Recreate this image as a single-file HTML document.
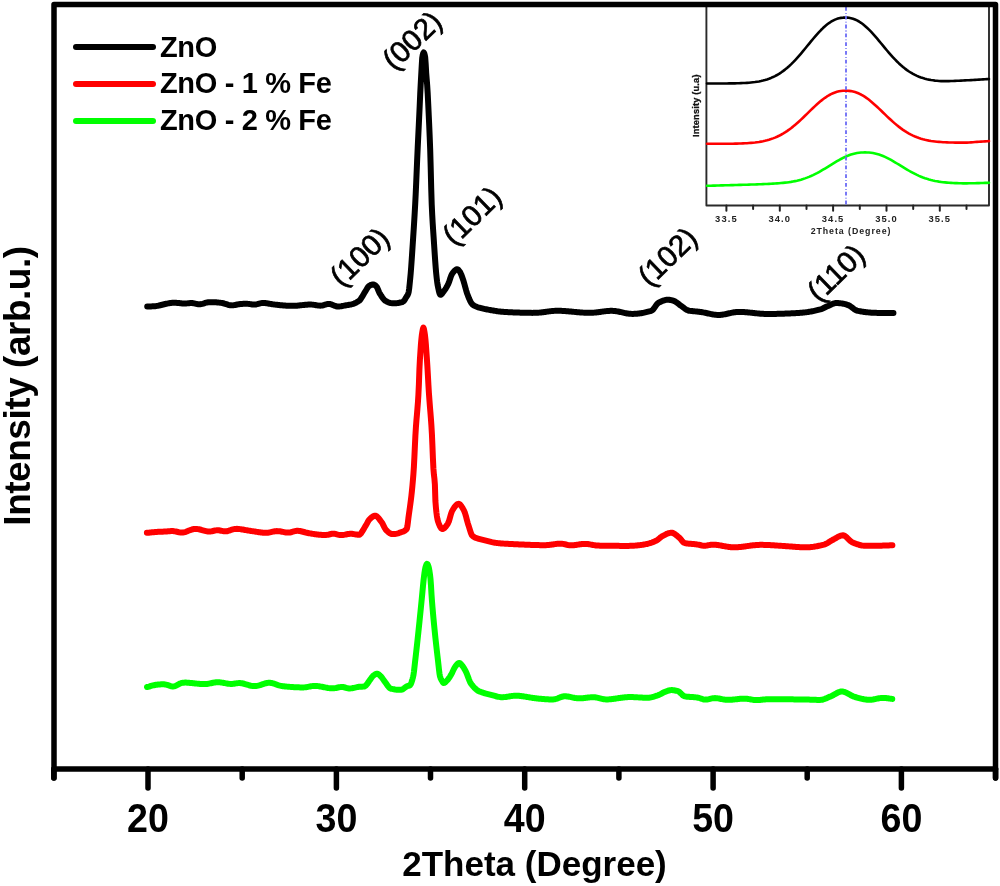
<!DOCTYPE html><html><head><meta charset="utf-8"><title>XRD</title><style>html,body{margin:0;padding:0;background:#fff;}svg{display:block;}</style></head><body>
<svg width="1000" height="886" viewBox="0 0 1000 886">
<rect width="1000" height="886" fill="#fff"/>
<g fill="none" stroke-linecap="round" stroke-linejoin="round">
<path d="M706.4,6 V205.5 H989 V6" stroke="#2a2a2a" stroke-width="1.9"/>
<line x1="726.4" y1="205.5" x2="726.4" y2="210.8" stroke="#222" stroke-width="2"/>
<line x1="753.1" y1="205.5" x2="753.1" y2="208.9" stroke="#222" stroke-width="2"/>
<line x1="779.8" y1="205.5" x2="779.8" y2="210.8" stroke="#222" stroke-width="2"/>
<line x1="806.5" y1="205.5" x2="806.5" y2="208.9" stroke="#222" stroke-width="2"/>
<line x1="833.1" y1="205.5" x2="833.1" y2="210.8" stroke="#222" stroke-width="2"/>
<line x1="859.8" y1="205.5" x2="859.8" y2="208.9" stroke="#222" stroke-width="2"/>
<line x1="886.5" y1="205.5" x2="886.5" y2="210.8" stroke="#222" stroke-width="2"/>
<line x1="913.2" y1="205.5" x2="913.2" y2="208.9" stroke="#222" stroke-width="2"/>
<line x1="939.8" y1="205.5" x2="939.8" y2="210.8" stroke="#222" stroke-width="2"/>
<line x1="966.5" y1="205.5" x2="966.5" y2="208.9" stroke="#222" stroke-width="2"/>
<path d="M707.0,83.50 L709.0,83.49 L711.0,83.49 L713.0,83.49 L715.0,83.49 L717.0,83.48 L719.0,83.48 L721.0,83.47 L723.0,83.46 L725.0,83.45 L727.0,83.44 L729.0,83.42 L731.0,83.39 L733.0,83.36 L735.0,83.33 L737.0,83.28 L739.0,83.22 L741.0,83.15 L743.0,83.07 L745.0,82.97 L747.0,82.84 L749.0,82.69 L751.0,82.51 L753.0,82.30 L755.0,82.06 L757.0,81.76 L759.0,81.42 L761.0,81.02 L763.0,80.55 L765.0,80.01 L767.0,79.40 L769.0,78.71 L771.0,77.93 L773.0,77.06 L775.0,76.09 L777.0,75.02 L779.0,73.84 L781.0,72.54 L783.0,71.14 L785.0,69.61 L787.0,67.97 L789.0,66.21 L791.0,64.34 L793.0,62.37 L795.0,60.29 L797.0,58.12 L799.0,55.87 L801.0,53.55 L803.0,51.17 L805.0,48.75 L807.0,46.30 L809.0,43.85 L811.0,41.40 L813.0,38.99 L815.0,36.63 L817.0,34.34 L819.0,32.14 L821.0,30.04 L823.0,28.07 L825.0,26.24 L827.0,24.57 L829.0,23.06 L831.0,21.73 L833.0,20.59 L835.0,19.63 L837.0,18.86 L839.0,18.29 L841.0,17.90 L843.0,17.67 L845.0,17.60 L847.0,17.64 L849.0,17.83 L851.0,18.19 L853.0,18.73 L855.0,19.46 L857.0,20.39 L859.0,21.50 L861.0,22.79 L863.0,24.27 L865.0,25.91 L867.0,27.70 L869.0,29.64 L871.0,31.70 L873.0,33.87 L875.0,36.13 L877.0,38.46 L879.0,40.84 L881.0,43.25 L883.0,45.67 L885.0,48.08 L887.0,50.47 L889.0,52.81 L891.0,55.10 L893.0,57.32 L895.0,59.46 L897.0,61.50 L899.0,63.44 L901.0,65.28 L903.0,67.00 L905.0,68.61 L907.0,70.10 L909.0,71.48 L911.0,72.74 L913.0,73.89 L915.0,74.92 L917.0,75.86 L919.0,76.70 L921.0,77.44 L923.0,78.10 L925.0,78.68 L927.0,79.18 L929.0,79.62 L931.0,80.00 L933.0,80.32 L935.0,80.60 L937.0,80.83 L939.0,81.02 L941.0,81.13 L943.0,81.16 L945.0,81.16 L947.0,81.14 L949.0,81.10 L951.0,81.05 L953.0,80.98 L955.0,80.91 L957.0,80.82 L959.0,80.73 L961.0,80.63 L963.0,80.53 L965.0,80.42 L967.0,80.31 L969.0,80.20 L971.0,80.08 L973.0,79.96 L975.0,79.84 L977.0,79.73 L979.0,79.61 L981.0,79.48 L983.0,79.36 L985.0,79.24 L987.0,79.12 L989.0,79.00" stroke="#000" stroke-width="2.6"/>
<path d="M707.0,143.80 L709.0,143.80 L711.0,143.79 L713.0,143.79 L715.0,143.79 L717.0,143.78 L719.0,143.78 L721.0,143.77 L723.0,143.76 L725.0,143.75 L727.0,143.74 L729.0,143.72 L731.0,143.70 L733.0,143.68 L735.0,143.64 L737.0,143.60 L739.0,143.56 L741.0,143.49 L743.0,143.41 L745.0,143.31 L747.0,143.20 L749.0,143.06 L751.0,142.90 L753.0,142.71 L755.0,142.50 L757.0,142.24 L759.0,141.95 L761.0,141.61 L763.0,141.23 L765.0,140.79 L767.0,140.29 L769.0,139.73 L771.0,139.10 L773.0,138.39 L775.0,137.61 L777.0,136.74 L779.0,135.79 L781.0,134.75 L783.0,133.62 L785.0,132.40 L787.0,131.08 L789.0,129.68 L791.0,128.19 L793.0,126.61 L795.0,124.95 L797.0,123.22 L799.0,121.43 L801.0,119.58 L803.0,117.69 L805.0,115.76 L807.0,113.82 L809.0,111.86 L811.0,109.92 L813.0,108.00 L815.0,106.12 L817.0,104.29 L819.0,102.54 L821.0,100.86 L823.0,99.28 L825.0,97.81 L827.0,96.47 L829.0,95.25 L831.0,94.17 L833.0,93.24 L835.0,92.45 L837.0,91.82 L839.0,91.33 L841.0,90.99 L843.0,90.79 L845.0,90.70 L847.0,90.72 L849.0,90.84 L851.0,91.09 L853.0,91.48 L855.0,92.02 L857.0,92.71 L859.0,93.55 L861.0,94.54 L863.0,95.67 L865.0,96.93 L867.0,98.32 L869.0,99.83 L871.0,101.44 L873.0,103.14 L875.0,104.91 L877.0,106.75 L879.0,108.63 L881.0,110.55 L883.0,112.48 L885.0,114.41 L887.0,116.32 L889.0,118.22 L891.0,120.07 L893.0,121.87 L895.0,123.61 L897.0,125.29 L899.0,126.89 L901.0,128.40 L903.0,129.83 L905.0,131.17 L907.0,132.42 L909.0,133.58 L911.0,134.65 L913.0,135.62 L915.0,136.51 L917.0,137.32 L919.0,138.04 L921.0,138.69 L923.0,139.27 L925.0,139.78 L927.0,140.22 L929.0,140.62 L931.0,140.96 L933.0,141.25 L935.0,141.50 L937.0,141.72 L939.0,141.90 L941.0,142.05 L943.0,142.18 L945.0,142.29 L947.0,142.37 L949.0,142.44 L951.0,142.50 L953.0,142.54 L955.0,142.58 L957.0,142.61 L959.0,142.63 L961.0,142.64 L963.0,142.65 L965.0,142.65 L967.0,142.59 L969.0,142.46 L971.0,142.33 L973.0,142.20 L975.0,142.06 L977.0,141.92 L979.0,141.79 L981.0,141.65 L983.0,141.51 L985.0,141.38 L987.0,141.24 L989.0,141.10" stroke="#f00" stroke-width="2.6"/>
<path d="M707.0,185.80 L709.0,185.75 L711.0,185.69 L713.0,185.64 L715.0,185.58 L717.0,185.53 L719.0,185.47 L721.0,185.42 L723.0,185.36 L725.0,185.31 L727.0,185.25 L729.0,185.20 L731.0,185.14 L733.0,185.09 L735.0,185.03 L737.0,184.98 L739.0,184.92 L741.0,184.86 L743.0,184.81 L745.0,184.75 L747.0,184.69 L749.0,184.63 L751.0,184.57 L753.0,184.51 L755.0,184.45 L757.0,184.38 L759.0,184.31 L761.0,184.24 L763.0,184.16 L765.0,184.07 L767.0,183.98 L769.0,183.88 L771.0,183.77 L773.0,183.65 L775.0,183.51 L777.0,183.36 L779.0,183.19 L781.0,183.02 L783.0,182.85 L785.0,182.66 L787.0,182.43 L789.0,182.17 L791.0,181.87 L793.0,181.52 L795.0,181.13 L797.0,180.70 L799.0,180.20 L801.0,179.66 L803.0,179.05 L805.0,178.38 L807.0,177.65 L809.0,176.86 L811.0,176.01 L813.0,175.10 L815.0,174.12 L817.0,173.10 L819.0,172.02 L821.0,170.89 L823.0,169.73 L825.0,168.53 L827.0,167.31 L829.0,166.08 L831.0,164.84 L833.0,163.61 L835.0,162.40 L837.0,161.21 L839.0,160.07 L841.0,158.97 L843.0,157.94 L845.0,156.97 L847.0,156.09 L849.0,155.29 L851.0,154.58 L853.0,153.97 L855.0,153.47 L857.0,153.06 L859.0,152.75 L861.0,152.55 L863.0,152.43 L865.0,152.40 L867.0,152.43 L869.0,152.54 L871.0,152.74 L873.0,153.03 L875.0,153.43 L877.0,153.94 L879.0,154.54 L881.0,155.24 L883.0,156.03 L885.0,156.91 L887.0,157.87 L889.0,158.90 L891.0,159.98 L893.0,161.12 L895.0,162.30 L897.0,163.51 L899.0,164.73 L901.0,165.96 L903.0,167.19 L905.0,168.40 L907.0,169.59 L909.0,170.75 L911.0,171.87 L913.0,172.94 L915.0,173.96 L917.0,174.93 L919.0,175.84 L921.0,176.68 L923.0,177.47 L925.0,178.19 L927.0,178.85 L929.0,179.45 L931.0,179.99 L933.0,180.48 L935.0,180.91 L937.0,181.29 L939.0,181.63 L941.0,181.92 L943.0,182.18 L945.0,182.40 L947.0,182.59 L949.0,182.75 L951.0,182.88 L953.0,183.00 L955.0,183.09 L957.0,183.17 L959.0,183.23 L961.0,183.29 L963.0,183.33 L965.0,183.36 L967.0,183.36 L969.0,183.32 L971.0,183.28 L973.0,183.24 L975.0,183.19 L977.0,183.14 L979.0,183.08 L981.0,183.03 L983.0,182.97 L985.0,182.91 L987.0,182.85 L989.0,182.79" stroke="#0f0" stroke-width="2.6"/>
<line x1="846" y1="7" x2="846" y2="205" stroke="#6a6af5" stroke-width="1.8" stroke-dasharray="3.8,2.2,0.8,2" stroke-linecap="butt"/>
</g>
<g font-family="'Liberation Sans', Arial, sans-serif" font-weight="bold" fill="#222" font-size="9.4" text-anchor="middle" letter-spacing="1.1">
<text x="726.4" y="222">33.5</text>
<text x="779.8" y="222">34.0</text>
<text x="833.1" y="222">34.5</text>
<text x="886.5" y="222">35.0</text>
<text x="939.8" y="222">35.5</text>
<text x="851" y="233.6" font-size="8.8" letter-spacing="0.95">2Theta (Degree)</text>
<text transform="translate(698.8,105.7) rotate(-90)" font-size="9.3" letter-spacing="0.15" fill="#111" stroke="#111" stroke-width="0.3">Intensity (u.a)</text>
</g>
<g fill="none" stroke="#000" stroke-width="5.5" stroke-linecap="round" stroke-linejoin="round">
<path d="M54,778 V4.4 H995.5 V778"/>
<line x1="54" y1="769" x2="995.5" y2="769"/>
<line x1="53.8" y1="769" x2="53.8" y2="778.0"/>
<line x1="148.0" y1="769" x2="148.0" y2="788.0"/>
<line x1="242.2" y1="769" x2="242.2" y2="778.0"/>
<line x1="336.4" y1="769" x2="336.4" y2="788.0"/>
<line x1="430.5" y1="769" x2="430.5" y2="778.0"/>
<line x1="524.7" y1="769" x2="524.7" y2="788.0"/>
<line x1="618.9" y1="769" x2="618.9" y2="778.0"/>
<line x1="713.1" y1="769" x2="713.1" y2="788.0"/>
<line x1="807.2" y1="769" x2="807.2" y2="778.0"/>
<line x1="901.4" y1="769" x2="901.4" y2="788.0"/>
<line x1="995.6" y1="769" x2="995.6" y2="778.0"/>
</g>
<g fill="none" stroke-width="6" stroke-linecap="round" stroke-linejoin="round">
<path d="M147.20,306.40 L148.20,306.40 L149.20,306.40 L150.20,306.39 L151.20,306.38 L152.20,306.36 L153.20,306.32 L154.20,306.26 L155.20,306.16 L156.20,306.04 L157.20,305.88 L158.20,305.69 L159.20,305.47 L160.20,305.24 L161.20,305.00 L162.20,304.76 L163.20,304.51 L164.20,304.27 L165.20,304.02 L166.20,303.79 L167.20,303.56 L168.20,303.35 L169.20,303.16 L170.20,303.01 L171.20,302.89 L172.20,302.81 L173.20,302.76 L174.20,302.76 L175.20,302.79 L176.20,302.84 L177.20,302.92 L178.20,303.01 L179.20,303.11 L180.20,303.21 L181.20,303.31 L182.20,303.39 L183.20,303.45 L184.20,303.49 L185.20,303.48 L186.20,303.44 L187.20,303.37 L188.20,303.27 L189.20,303.16 L190.20,303.09 L191.20,303.06 L192.20,303.10 L193.20,303.21 L194.20,303.39 L195.20,303.62 L196.20,303.85 L197.20,304.05 L198.20,304.19 L199.20,304.25 L200.20,304.21 L201.20,304.07 L202.20,303.85 L203.20,303.57 L204.20,303.26 L205.20,302.96 L206.20,302.69 L207.20,302.47 L208.20,302.30 L209.20,302.20 L210.20,302.14 L211.20,302.13 L212.20,302.14 L213.20,302.17 L214.20,302.22 L215.20,302.29 L216.20,302.36 L217.20,302.44 L218.20,302.53 L219.20,302.63 L220.20,302.75 L221.20,302.89 L222.20,303.06 L223.20,303.27 L224.20,303.51 L225.20,303.81 L226.20,304.13 L227.20,304.46 L228.20,304.78 L229.20,305.06 L230.20,305.25 L231.20,305.36 L232.20,305.37 L233.20,305.29 L234.20,305.14 L235.20,304.94 L236.20,304.73 L237.20,304.52 L238.20,304.33 L239.20,304.17 L240.20,304.05 L241.20,303.96 L242.20,303.90 L243.20,303.85 L244.20,303.82 L245.20,303.80 L246.20,303.79 L247.20,303.81 L248.20,303.87 L249.20,303.96 L250.20,304.10 L251.20,304.26 L252.20,304.42 L253.20,304.54 L254.20,304.60 L255.20,304.55 L256.20,304.41 L257.20,304.19 L258.20,303.91 L259.20,303.62 L260.20,303.35 L261.20,303.15 L262.20,303.01 L263.20,302.96 L264.20,302.98 L265.20,303.06 L266.20,303.19 L267.20,303.34 L268.20,303.52 L269.20,303.70 L270.20,303.88 L271.20,304.06 L272.20,304.22 L273.20,304.36 L274.20,304.50 L275.20,304.62 L276.20,304.73 L277.20,304.84 L278.20,304.95 L279.20,305.05 L280.20,305.15 L281.20,305.24 L282.20,305.33 L283.20,305.42 L284.20,305.50 L285.20,305.57 L286.20,305.64 L287.20,305.70 L288.20,305.75 L289.20,305.79 L290.20,305.82 L291.20,305.84 L292.20,305.84 L293.20,305.83 L294.20,305.81 L295.20,305.76 L296.20,305.71 L297.20,305.64 L298.20,305.55 L299.20,305.46 L300.20,305.36 L301.20,305.25 L302.20,305.14 L303.20,305.04 L304.20,304.93 L305.20,304.83 L306.20,304.74 L307.20,304.66 L308.20,304.60 L309.20,304.56 L310.20,304.55 L311.20,304.57 L312.20,304.63 L313.20,304.73 L314.20,304.86 L315.20,305.02 L316.20,305.20 L317.20,305.37 L318.20,305.52 L319.20,305.62 L320.20,305.66 L321.20,305.61 L322.20,305.48 L323.20,305.25 L324.20,304.96 L325.20,304.64 L326.20,304.33 L327.20,304.09 L328.20,303.95 L329.20,303.95 L330.20,304.09 L331.20,304.37 L332.20,304.75 L333.20,305.18 L334.20,305.61 L335.20,305.98 L336.20,306.27 L337.20,306.45 L338.20,306.51 L339.20,306.49 L340.20,306.38 L341.20,306.23 L342.20,306.04 L343.20,305.84 L344.20,305.64 L345.20,305.45 L346.20,305.28 L347.20,305.12 L348.20,304.97 L349.20,304.81 L350.20,304.64 L351.20,304.45 L352.20,304.20 L353.20,303.90 L354.20,303.52 L355.20,303.06 L356.20,302.52 L357.20,301.96 L358.20,301.35 L359.20,300.70 L360.20,299.75 L361.20,298.31 L362.20,296.66 L363.20,294.91 L364.20,293.19 L365.20,291.60 L366.20,289.95 L367.20,288.22 L368.20,286.75 L369.20,285.88 L370.20,285.31 L371.20,284.84 L372.20,284.52 L373.20,284.40 L374.20,284.65 L375.20,285.31 L376.20,286.21 L377.20,287.59 L378.20,289.99 L379.20,292.44 L380.20,294.18 L381.20,295.77 L382.20,297.28 L383.20,298.63 L384.20,299.79 L385.20,300.70 L386.20,301.30 L387.20,301.78 L388.20,302.22 L389.20,302.62 L390.20,302.95 L391.20,303.15 L392.20,303.28 L393.20,303.34 L394.20,303.34 L395.20,303.33 L396.20,303.27 L397.20,303.14 L398.20,302.96 L399.20,302.77 L400.20,302.54 L401.20,302.32 L402.20,302.06 L403.20,301.49 L404.20,300.55 L404.70,299.79 L405.20,298.91 L405.70,298.01 L406.20,297.18 L406.70,296.47 L407.20,295.76 L407.70,294.90 L408.20,293.77 L408.70,291.93 L409.20,288.44 L409.70,283.79 L410.20,278.59 L410.70,273.19 L411.20,266.87 L411.70,259.81 L412.20,252.28 L412.70,244.58 L413.20,236.97 L413.70,229.33 L414.20,221.42 L414.70,213.05 L415.20,204.00 L415.70,193.81 L416.20,182.54 L416.70,170.74 L417.20,158.98 L417.70,147.84 L418.20,137.26 L418.70,126.88 L419.20,116.42 L419.70,105.55 L420.20,94.20 L420.70,84.21 L421.20,75.25 L421.70,66.09 L422.20,58.00 L422.70,55.12 L423.20,53.20 L423.70,52.50 L424.20,53.10 L424.70,54.79 L425.20,57.39 L425.70,64.25 L426.20,72.89 L426.70,79.21 L427.20,85.54 L427.70,93.47 L428.20,103.55 L428.70,114.28 L429.20,125.12 L429.70,136.76 L430.20,150.00 L430.70,167.72 L431.20,187.91 L431.70,204.00 L432.20,214.65 L432.70,223.43 L433.20,231.11 L433.70,238.49 L434.20,246.12 L434.70,253.75 L435.20,261.06 L435.70,267.77 L436.20,273.58 L436.70,278.25 L437.20,282.21 L437.70,285.46 L438.20,287.92 L438.70,290.21 L439.20,292.27 L439.70,293.86 L440.20,294.72 L440.70,294.75 L441.20,294.50 L441.70,294.06 L442.20,293.48 L442.70,292.81 L443.20,292.10 L443.70,291.40 L444.20,290.74 L444.70,290.06 L445.20,289.33 L445.70,288.55 L446.20,287.74 L447.20,285.96 L448.20,284.01 L449.20,281.58 L450.20,278.50 L451.20,275.61 L452.20,273.72 L453.20,272.35 L454.20,271.11 L455.20,270.12 L456.20,269.44 L457.20,269.20 L458.20,269.69 L459.20,270.87 L460.20,272.31 L461.20,274.42 L462.20,277.11 L463.20,279.97 L464.20,283.31 L465.20,286.96 L466.20,290.56 L467.20,293.73 L468.20,296.31 L469.20,298.80 L470.20,301.08 L471.20,302.96 L472.20,304.23 L473.20,304.96 L474.20,305.58 L475.20,306.11 L476.20,306.57 L477.20,306.97 L478.20,307.31 L479.20,307.60 L480.20,307.87 L481.20,308.13 L482.20,308.39 L483.20,308.64 L484.20,308.87 L485.20,309.09 L486.20,309.29 L487.20,309.49 L488.20,309.67 L489.20,309.86 L490.20,310.04 L491.20,310.22 L492.20,310.39 L493.20,310.57 L494.20,310.74 L495.20,310.90 L496.20,311.06 L497.20,311.21 L498.20,311.35 L499.20,311.48 L500.20,311.59 L501.20,311.68 L502.20,311.77 L503.20,311.85 L504.20,311.91 L505.20,311.98 L506.20,312.04 L507.20,312.09 L508.20,312.14 L509.20,312.19 L510.20,312.24 L511.20,312.29 L512.20,312.34 L513.20,312.38 L514.20,312.43 L515.20,312.47 L516.20,312.51 L517.20,312.55 L518.20,312.58 L519.20,312.62 L520.20,312.65 L521.20,312.68 L522.20,312.71 L523.20,312.73 L524.20,312.76 L525.20,312.78 L526.20,312.80 L527.20,312.82 L528.20,312.84 L529.20,312.85 L530.20,312.86 L531.20,312.87 L532.20,312.88 L533.20,312.87 L534.20,312.86 L535.20,312.84 L536.20,312.81 L537.20,312.77 L538.20,312.70 L539.20,312.63 L540.20,312.53 L541.20,312.43 L542.20,312.31 L543.20,312.18 L544.20,312.05 L545.20,311.91 L546.20,311.77 L547.20,311.63 L548.20,311.50 L549.20,311.36 L550.20,311.24 L551.20,311.13 L552.20,311.03 L553.20,310.94 L554.20,310.87 L555.20,310.82 L556.20,310.78 L557.20,310.77 L558.20,310.76 L559.20,310.77 L560.20,310.80 L561.20,310.83 L562.20,310.88 L563.20,310.93 L564.20,311.00 L565.20,311.06 L566.20,311.14 L567.20,311.22 L568.20,311.30 L569.20,311.39 L570.20,311.48 L571.20,311.58 L572.20,311.67 L573.20,311.77 L574.20,311.87 L575.20,311.96 L576.20,312.06 L577.20,312.15 L578.20,312.24 L579.20,312.33 L580.20,312.41 L581.20,312.49 L582.20,312.56 L583.20,312.63 L584.20,312.69 L585.20,312.74 L586.20,312.78 L587.20,312.81 L588.20,312.83 L589.20,312.84 L590.20,312.83 L591.20,312.80 L592.20,312.76 L593.20,312.70 L594.20,312.63 L595.20,312.53 L596.20,312.43 L597.20,312.31 L598.20,312.18 L599.20,312.05 L600.20,311.91 L601.20,311.77 L602.20,311.63 L603.20,311.50 L604.20,311.36 L605.20,311.24 L606.20,311.13 L607.20,311.03 L608.20,310.95 L609.20,310.88 L610.20,310.84 L611.20,310.82 L612.20,310.84 L613.20,310.88 L614.20,310.95 L615.20,311.06 L616.20,311.19 L617.20,311.36 L618.20,311.54 L619.20,311.75 L620.20,311.96 L621.20,312.19 L622.20,312.42 L623.20,312.65 L624.20,312.87 L625.20,313.08 L626.20,313.27 L627.20,313.44 L628.20,313.59 L629.20,313.71 L630.20,313.80 L631.20,313.86 L632.20,313.89 L633.20,313.90 L634.20,313.87 L635.20,313.83 L636.20,313.77 L637.20,313.69 L638.20,313.59 L639.20,313.47 L640.20,313.34 L641.20,313.19 L642.20,313.02 L643.20,312.84 L644.20,312.64 L645.20,312.42 L646.20,312.18 L647.20,311.93 L648.20,311.67 L649.20,311.40 L650.20,311.15 L651.20,310.83 L652.20,310.38 L653.20,309.42 L654.20,308.07 L655.20,306.56 L656.20,305.08 L657.20,303.82 L658.20,303.00 L659.20,302.47 L660.20,301.96 L661.20,301.48 L662.20,301.04 L663.20,300.65 L664.20,300.31 L665.20,300.04 L666.20,299.85 L667.20,299.73 L668.20,299.70 L669.20,299.77 L670.20,299.93 L671.20,300.15 L672.20,300.43 L673.20,300.74 L674.20,301.07 L675.20,301.54 L676.20,302.18 L677.20,302.93 L678.20,303.72 L679.20,304.49 L680.20,305.20 L681.20,305.89 L682.20,306.64 L683.20,307.41 L684.20,308.18 L685.20,308.90 L686.20,309.55 L687.20,310.09 L688.20,310.50 L689.20,310.73 L690.20,310.88 L691.20,310.98 L692.20,311.08 L693.20,311.17 L694.20,311.27 L695.20,311.37 L696.20,311.46 L697.20,311.56 L698.20,311.66 L699.20,311.78 L700.20,311.91 L701.20,312.05 L702.20,312.22 L703.20,312.40 L704.20,312.60 L705.20,312.80 L706.20,313.02 L707.20,313.24 L708.20,313.47 L709.20,313.69 L710.20,313.91 L711.20,314.11 L712.20,314.31 L713.20,314.48 L714.20,314.63 L715.20,314.76 L716.20,314.85 L717.20,314.91 L718.20,314.94 L719.20,314.93 L720.20,314.89 L721.20,314.80 L722.20,314.69 L723.20,314.54 L724.20,314.37 L725.20,314.18 L726.20,313.97 L727.20,313.75 L728.20,313.52 L729.20,313.29 L730.20,313.06 L731.20,312.85 L732.20,312.64 L733.20,312.46 L734.20,312.29 L735.20,312.16 L736.20,312.05 L737.20,311.97 L738.20,311.92 L739.20,311.90 L740.20,311.90 L741.20,311.92 L742.20,311.96 L743.20,312.01 L744.20,312.07 L745.20,312.15 L746.20,312.23 L747.20,312.32 L748.20,312.42 L749.20,312.52 L750.20,312.63 L751.20,312.73 L752.20,312.84 L753.20,312.96 L754.20,313.07 L755.20,313.17 L756.20,313.28 L757.20,313.38 L758.20,313.48 L759.20,313.57 L760.20,313.65 L761.20,313.73 L762.20,313.79 L763.20,313.85 L764.20,313.89 L765.20,313.93 L766.20,313.95 L767.20,313.97 L768.20,313.98 L769.20,313.98 L770.20,313.98 L771.20,313.97 L772.20,313.96 L773.20,313.94 L774.20,313.93 L775.20,313.91 L776.20,313.89 L777.20,313.87 L778.20,313.85 L779.20,313.82 L780.20,313.79 L781.20,313.76 L782.20,313.73 L783.20,313.70 L784.20,313.66 L785.20,313.62 L786.20,313.58 L787.20,313.54 L788.20,313.50 L789.20,313.46 L790.20,313.41 L791.20,313.37 L792.20,313.32 L793.20,313.27 L794.20,313.22 L795.20,313.16 L796.20,313.11 L797.20,313.05 L798.20,312.99 L799.20,312.93 L800.20,312.86 L801.20,312.78 L802.20,312.70 L803.20,312.61 L804.20,312.50 L805.20,312.39 L806.20,312.26 L807.20,312.12 L808.20,311.98 L809.20,311.82 L810.20,311.65 L811.20,311.47 L812.20,311.29 L813.20,311.09 L814.20,310.88 L815.20,310.66 L816.20,310.43 L817.20,310.19 L818.20,309.93 L819.20,309.67 L820.20,309.41 L821.20,309.12 L822.20,308.74 L823.20,308.28 L824.20,307.79 L825.20,307.29 L826.20,306.80 L827.20,306.34 L828.20,305.92 L829.20,305.48 L830.20,305.01 L831.20,304.53 L832.20,304.07 L833.20,303.66 L834.20,303.32 L835.20,303.09 L836.20,303.00 L837.20,303.02 L838.20,303.07 L839.20,303.16 L840.20,303.27 L841.20,303.40 L842.20,303.53 L843.20,303.69 L844.20,303.91 L845.20,304.16 L846.20,304.45 L847.20,304.78 L848.20,305.13 L849.20,305.56 L850.20,306.15 L851.20,306.87 L852.20,307.65 L853.20,308.44 L854.20,309.19 L855.20,309.86 L856.20,310.38 L857.20,310.70 L858.20,310.90 L859.20,311.10 L860.20,311.28 L861.20,311.46 L862.20,311.63 L863.20,311.78 L864.20,311.92 L865.20,312.04 L866.20,312.17 L867.20,312.28 L868.20,312.39 L869.20,312.49 L870.20,312.57 L871.20,312.65 L872.20,312.71 L873.20,312.77 L874.20,312.81 L875.20,312.84 L876.20,312.86 L877.20,312.88 L878.20,312.89 L879.20,312.89 L880.20,312.90 L881.20,312.90 L882.20,312.90 L883.20,312.90 L884.20,312.90 L885.20,312.90 L886.20,312.90 L887.20,312.90 L888.20,312.90 L889.20,312.90 L890.20,312.90 L891.20,312.90 L892.20,312.90 L893.20,312.90 L893.45,312.90" stroke="#000"/>
<path d="M146.90,532.84 L147.90,532.76 L148.90,532.66 L149.90,532.55 L150.90,532.44 L151.90,532.33 L152.90,532.23 L153.90,532.14 L154.90,532.06 L155.90,531.99 L156.90,531.92 L157.90,531.87 L158.90,531.82 L159.90,531.78 L160.90,531.74 L161.90,531.70 L162.90,531.65 L163.90,531.60 L164.90,531.54 L165.90,531.47 L166.90,531.39 L167.90,531.30 L168.90,531.22 L169.90,531.14 L170.90,531.09 L171.90,531.07 L172.90,531.11 L173.90,531.20 L174.90,531.35 L175.90,531.54 L176.90,531.77 L177.90,532.01 L178.90,532.23 L179.90,532.41 L180.90,532.52 L181.90,532.55 L182.90,532.48 L183.90,532.32 L184.90,532.08 L185.90,531.77 L186.90,531.40 L187.90,531.00 L188.90,530.59 L189.90,530.19 L190.90,529.82 L191.90,529.50 L192.90,529.25 L193.90,529.07 L194.90,528.97 L195.90,528.95 L196.90,529.00 L197.90,529.12 L198.90,529.29 L199.90,529.51 L200.90,529.76 L201.90,530.03 L202.90,530.31 L203.90,530.58 L204.90,530.84 L205.90,531.08 L206.90,531.27 L207.90,531.41 L208.90,531.48 L209.90,531.47 L210.90,531.39 L211.90,531.22 L212.90,531.00 L213.90,530.76 L214.90,530.53 L215.90,530.36 L216.90,530.25 L217.90,530.25 L218.90,530.33 L219.90,530.48 L220.90,530.69 L221.90,530.91 L222.90,531.12 L223.90,531.28 L224.90,531.36 L225.90,531.34 L226.90,531.22 L227.90,531.00 L228.90,530.70 L229.90,530.35 L230.90,529.99 L231.90,529.64 L232.90,529.34 L233.90,529.11 L234.90,528.96 L235.90,528.88 L236.90,528.87 L237.90,528.92 L238.90,529.00 L239.90,529.12 L240.90,529.26 L241.90,529.41 L242.90,529.58 L243.90,529.75 L244.90,529.93 L245.90,530.10 L246.90,530.28 L247.90,530.45 L248.90,530.61 L249.90,530.77 L250.90,530.93 L251.90,531.09 L252.90,531.24 L253.90,531.40 L254.90,531.56 L255.90,531.72 L256.90,531.88 L257.90,532.03 L258.90,532.18 L259.90,532.32 L260.90,532.45 L261.90,532.56 L262.90,532.66 L263.90,532.74 L264.90,532.79 L265.90,532.81 L266.90,532.78 L267.90,532.70 L268.90,532.57 L269.90,532.39 L270.90,532.17 L271.90,531.93 L272.90,531.68 L273.90,531.47 L274.90,531.29 L275.90,531.17 L276.90,531.12 L277.90,531.13 L278.90,531.20 L279.90,531.33 L280.90,531.49 L281.90,531.68 L282.90,531.88 L283.90,532.08 L284.90,532.27 L285.90,532.43 L286.90,532.54 L287.90,532.59 L288.90,532.57 L289.90,532.45 L290.90,532.26 L291.90,532.00 L292.90,531.70 L293.90,531.40 L294.90,531.15 L295.90,530.96 L296.90,530.85 L297.90,530.84 L298.90,530.91 L299.90,531.05 L300.90,531.25 L301.90,531.48 L302.90,531.73 L303.90,532.00 L304.90,532.27 L305.90,532.53 L306.90,532.78 L307.90,533.01 L308.90,533.22 L309.90,533.41 L310.90,533.58 L311.90,533.74 L312.90,533.89 L313.90,534.04 L314.90,534.17 L315.90,534.30 L316.90,534.43 L317.90,534.55 L318.90,534.66 L319.90,534.76 L320.90,534.85 L321.90,534.93 L322.90,534.99 L323.90,535.02 L324.90,535.01 L325.90,534.96 L326.90,534.85 L327.90,534.69 L328.90,534.48 L329.90,534.24 L330.90,534.01 L331.90,533.82 L332.90,533.72 L333.90,533.73 L334.90,533.85 L335.90,534.06 L336.90,534.32 L337.90,534.60 L338.90,534.85 L339.90,535.02 L340.90,535.11 L341.90,535.10 L342.90,535.02 L343.90,534.86 L344.90,534.67 L345.90,534.45 L346.90,534.24 L347.90,534.05 L348.90,533.90 L349.90,533.82 L350.90,533.80 L351.90,533.85 L352.90,533.97 L353.90,534.13 L354.90,534.29 L355.90,534.41 L356.90,534.56 L357.90,534.74 L358.90,534.85 L359.90,534.56 L360.90,533.49 L361.90,532.04 L362.90,530.38 L363.90,528.64 L364.90,526.97 L365.90,525.40 L366.90,523.56 L367.90,521.67 L368.90,520.03 L369.90,518.92 L370.90,518.01 L371.90,517.17 L372.90,516.47 L373.90,515.96 L374.90,515.71 L375.90,515.83 L376.90,516.40 L377.90,517.34 L378.90,518.52 L379.90,519.85 L380.90,521.21 L381.90,522.56 L382.90,524.32 L383.90,526.32 L384.90,528.27 L385.90,529.85 L386.90,530.86 L387.90,531.74 L388.90,532.57 L389.90,533.30 L390.90,533.76 L391.90,534.02 L392.90,534.10 L393.90,534.04 L394.90,534.01 L395.90,533.88 L396.90,533.66 L397.90,533.37 L398.90,533.05 L399.90,532.67 L400.90,532.28 L401.90,531.97 L402.90,531.64 L403.90,531.22 L404.40,530.96 L404.90,530.65 L405.40,530.28 L405.90,529.85 L406.40,529.34 L406.90,528.57 L407.40,526.09 L407.90,522.32 L408.40,518.10 L408.90,514.30 L409.40,510.81 L409.90,507.30 L410.40,503.68 L410.90,499.86 L411.40,495.75 L411.90,491.17 L412.40,485.91 L412.90,480.32 L413.40,474.22 L413.90,466.73 L414.40,456.81 L414.90,445.81 L415.40,435.52 L415.90,427.39 L416.40,420.76 L416.90,414.88 L417.40,409.07 L417.90,402.64 L418.40,394.91 L418.90,384.09 L419.40,369.68 L419.90,359.58 L420.40,352.00 L420.90,344.79 L421.40,339.01 L421.90,334.64 L422.40,331.45 L422.90,328.77 L423.40,327.50 L423.90,328.77 L424.40,331.45 L424.90,334.64 L425.40,339.01 L425.90,344.87 L426.40,352.00 L426.90,359.01 L427.40,366.61 L427.90,375.42 L428.40,384.58 L428.90,392.83 L429.40,399.83 L429.90,406.14 L430.40,412.21 L430.90,418.52 L431.40,425.55 L431.90,433.83 L432.40,445.25 L432.90,457.94 L433.40,468.46 L433.90,474.42 L434.40,478.53 L434.90,484.80 L435.40,501.00 L435.90,507.37 L436.40,512.36 L436.90,516.17 L437.40,519.00 L437.90,521.06 L438.40,522.56 L438.90,523.90 L439.40,525.13 L439.90,526.23 L440.40,527.17 L440.90,527.94 L441.40,528.52 L441.90,528.88 L442.40,529.00 L442.90,528.94 L443.40,528.75 L443.90,528.46 L444.40,528.07 L444.90,527.60 L445.40,527.05 L445.90,526.43 L446.90,525.05 L447.90,523.55 L448.90,521.31 L449.90,517.91 L450.90,514.28 L451.90,511.39 L452.90,509.63 L453.90,508.03 L454.90,506.57 L455.90,505.34 L456.90,504.42 L457.90,503.89 L458.90,503.85 L459.90,504.41 L460.90,505.46 L461.90,506.90 L462.90,508.60 L463.90,510.43 L464.90,512.74 L465.90,516.10 L466.90,519.90 L467.90,523.54 L468.90,526.67 L469.90,529.95 L470.90,532.99 L471.90,535.24 L472.90,536.31 L473.90,536.95 L474.90,537.46 L475.90,537.87 L476.90,538.21 L477.90,538.52 L478.90,538.81 L479.90,539.10 L480.90,539.37 L481.90,539.62 L482.90,539.88 L483.90,540.13 L484.90,540.37 L485.90,540.61 L486.90,540.86 L487.90,541.11 L488.90,541.36 L489.90,541.62 L490.90,541.88 L491.90,542.13 L492.90,542.35 L493.90,542.56 L494.90,542.73 L495.90,542.88 L496.90,543.01 L497.90,543.13 L498.90,543.23 L499.90,543.32 L500.90,543.40 L501.90,543.48 L502.90,543.55 L503.90,543.62 L504.90,543.68 L505.90,543.74 L506.90,543.80 L507.90,543.85 L508.90,543.90 L509.90,543.95 L510.90,544.00 L511.90,544.05 L512.90,544.10 L513.90,544.14 L514.90,544.19 L515.90,544.24 L516.90,544.29 L517.90,544.33 L518.90,544.38 L519.90,544.43 L520.90,544.48 L521.90,544.52 L522.90,544.57 L523.90,544.61 L524.90,544.65 L525.90,544.70 L526.90,544.74 L527.90,544.78 L528.90,544.82 L529.90,544.86 L530.90,544.89 L531.90,544.93 L532.90,544.96 L533.90,544.99 L534.90,545.02 L535.90,545.05 L536.90,545.07 L537.90,545.10 L538.90,545.12 L539.90,545.13 L540.90,545.15 L541.90,545.16 L542.90,545.17 L543.90,545.16 L544.90,545.15 L545.90,545.13 L546.90,545.08 L547.90,545.02 L548.90,544.93 L549.90,544.83 L550.90,544.71 L551.90,544.57 L552.90,544.42 L553.90,544.27 L554.90,544.12 L555.90,543.98 L556.90,543.85 L557.90,543.75 L558.90,543.67 L559.90,543.64 L560.90,543.66 L561.90,543.74 L562.90,543.87 L563.90,544.06 L564.90,544.28 L565.90,544.52 L566.90,544.77 L567.90,544.98 L568.90,545.16 L569.90,545.28 L570.90,545.34 L571.90,545.34 L572.90,545.30 L573.90,545.22 L574.90,545.10 L575.90,544.96 L576.90,544.81 L577.90,544.65 L578.90,544.49 L579.90,544.34 L580.90,544.20 L581.90,544.08 L582.90,543.98 L583.90,543.92 L584.90,543.90 L585.90,543.92 L586.90,543.98 L587.90,544.09 L588.90,544.23 L589.90,544.40 L590.90,544.59 L591.90,544.79 L592.90,544.97 L593.90,545.15 L594.90,545.29 L595.90,545.41 L596.90,545.50 L597.90,545.57 L598.90,545.61 L599.90,545.65 L600.90,545.67 L601.90,545.69 L602.90,545.71 L603.90,545.72 L604.90,545.74 L605.90,545.75 L606.90,545.77 L607.90,545.78 L608.90,545.79 L609.90,545.80 L610.90,545.81 L611.90,545.82 L612.90,545.83 L613.90,545.84 L614.90,545.85 L615.90,545.85 L616.90,545.86 L617.90,545.87 L618.90,545.87 L619.90,545.88 L620.90,545.88 L621.90,545.88 L622.90,545.89 L623.90,545.89 L624.90,545.89 L625.90,545.89 L626.90,545.89 L627.90,545.89 L628.90,545.88 L629.90,545.86 L630.90,545.84 L631.90,545.80 L632.90,545.76 L633.90,545.70 L634.90,545.63 L635.90,545.55 L636.90,545.46 L637.90,545.36 L638.90,545.26 L639.90,545.14 L640.90,545.01 L641.90,544.87 L642.90,544.72 L643.90,544.55 L644.90,544.36 L645.90,544.15 L646.90,543.94 L647.90,543.71 L648.90,543.45 L649.90,543.16 L650.90,542.83 L651.90,542.48 L652.90,542.10 L653.90,541.70 L654.90,541.28 L655.90,540.84 L656.90,540.31 L657.90,539.60 L658.90,538.78 L659.90,537.93 L660.90,537.12 L661.90,536.40 L662.90,535.85 L663.90,535.33 L664.90,534.81 L665.90,534.31 L666.90,533.84 L667.90,533.43 L668.90,533.09 L669.90,532.85 L670.90,532.72 L671.90,532.73 L672.90,532.99 L673.90,533.46 L674.90,534.10 L675.90,534.85 L676.90,535.68 L677.90,536.52 L678.90,537.34 L679.90,538.25 L680.90,539.42 L681.90,540.68 L682.90,541.84 L683.90,542.69 L684.90,543.07 L685.90,543.28 L686.90,543.44 L687.90,543.58 L688.90,543.69 L689.90,543.78 L690.90,543.85 L691.90,543.91 L692.90,543.99 L693.90,544.08 L694.90,544.18 L695.90,544.29 L696.90,544.43 L697.90,544.60 L698.90,544.81 L699.90,545.04 L700.90,545.27 L701.90,545.48 L702.90,545.64 L703.90,545.72 L704.90,545.72 L705.90,545.64 L706.90,545.50 L707.90,545.32 L708.90,545.14 L709.90,544.97 L710.90,544.84 L711.90,544.75 L712.90,544.71 L713.90,544.71 L714.90,544.76 L715.90,544.84 L716.90,544.95 L717.90,545.08 L718.90,545.23 L719.90,545.39 L720.90,545.57 L721.90,545.75 L722.90,545.93 L723.90,546.12 L724.90,546.30 L725.90,546.47 L726.90,546.64 L727.90,546.79 L728.90,546.93 L729.90,547.05 L730.90,547.15 L731.90,547.22 L732.90,547.27 L733.90,547.30 L734.90,547.30 L735.90,547.28 L736.90,547.24 L737.90,547.18 L738.90,547.11 L739.90,547.02 L740.90,546.92 L741.90,546.81 L742.90,546.68 L743.90,546.56 L744.90,546.42 L745.90,546.28 L746.90,546.14 L747.90,546.00 L748.90,545.86 L749.90,545.72 L750.90,545.59 L751.90,545.47 L752.90,545.35 L753.90,545.24 L754.90,545.14 L755.90,545.06 L756.90,544.99 L757.90,544.93 L758.90,544.89 L759.90,544.86 L760.90,544.85 L761.90,544.85 L762.90,544.86 L763.90,544.88 L764.90,544.90 L765.90,544.94 L766.90,544.98 L767.90,545.02 L768.90,545.07 L769.90,545.12 L770.90,545.18 L771.90,545.24 L772.90,545.30 L773.90,545.36 L774.90,545.43 L775.90,545.49 L776.90,545.56 L777.90,545.62 L778.90,545.68 L779.90,545.75 L780.90,545.81 L781.90,545.87 L782.90,545.94 L783.90,546.00 L784.90,546.07 L785.90,546.14 L786.90,546.21 L787.90,546.29 L788.90,546.37 L789.90,546.44 L790.90,546.52 L791.90,546.60 L792.90,546.68 L793.90,546.76 L794.90,546.84 L795.90,546.91 L796.90,546.98 L797.90,547.05 L798.90,547.11 L799.90,547.17 L800.90,547.22 L801.90,547.26 L802.90,547.30 L803.90,547.32 L804.90,547.34 L805.90,547.34 L806.90,547.33 L807.90,547.30 L808.90,547.25 L809.90,547.19 L810.90,547.10 L811.90,546.99 L812.90,546.87 L813.90,546.73 L814.90,546.57 L815.90,546.39 L816.90,546.20 L817.90,546.00 L818.90,545.79 L819.90,545.57 L820.90,545.34 L821.90,545.10 L822.90,544.85 L823.90,544.58 L824.90,544.28 L825.90,543.86 L826.90,543.35 L827.90,542.78 L828.90,542.15 L829.90,541.52 L830.90,540.88 L831.90,540.29 L832.90,539.75 L833.90,539.23 L834.90,538.67 L835.90,538.08 L836.90,537.49 L837.90,536.92 L838.90,536.40 L839.90,535.96 L840.90,535.61 L841.90,535.38 L842.90,535.30 L843.90,535.47 L844.90,535.95 L845.90,536.66 L846.90,537.54 L847.90,538.53 L848.90,539.55 L849.90,540.53 L850.90,541.42 L851.90,542.15 L852.90,542.64 L853.90,543.02 L854.90,543.39 L855.90,543.75 L856.90,544.10 L857.90,544.43 L858.90,544.74 L859.90,545.02 L860.90,545.27 L861.90,545.48 L862.90,545.62 L863.90,545.71 L864.90,545.76 L865.90,545.80 L866.90,545.83 L867.90,545.86 L868.90,545.87 L869.90,545.87 L870.90,545.86 L871.90,545.85 L872.90,545.83 L873.90,545.82 L874.90,545.80 L875.90,545.78 L876.90,545.76 L877.90,545.74 L878.90,545.72 L879.90,545.69 L880.90,545.67 L881.90,545.64 L882.90,545.61 L883.90,545.58 L884.90,545.55 L885.90,545.51 L886.90,545.47 L887.90,545.43 L888.90,545.39 L889.90,545.34 L890.90,545.31 L891.90,545.27 L892.40,545.26" stroke="#f00"/>
<path d="M147.00,687.03 L148.00,686.80 L149.00,686.54 L150.00,686.25 L151.00,685.96 L152.00,685.68 L153.00,685.42 L154.00,685.19 L155.00,684.99 L156.00,684.82 L157.00,684.68 L158.00,684.56 L159.00,684.46 L160.00,684.39 L161.00,684.34 L162.00,684.31 L163.00,684.31 L164.00,684.35 L165.00,684.45 L166.00,684.61 L167.00,684.85 L168.00,685.17 L169.00,685.53 L170.00,685.90 L171.00,686.22 L172.00,686.43 L173.00,686.49 L174.00,686.38 L175.00,686.10 L176.00,685.67 L177.00,685.15 L178.00,684.59 L179.00,684.04 L180.00,683.56 L181.00,683.18 L182.00,682.90 L183.00,682.72 L184.00,682.63 L185.00,682.60 L186.00,682.62 L187.00,682.66 L188.00,682.73 L189.00,682.81 L190.00,682.90 L191.00,683.00 L192.00,683.10 L193.00,683.21 L194.00,683.31 L195.00,683.42 L196.00,683.52 L197.00,683.62 L198.00,683.72 L199.00,683.80 L200.00,683.89 L201.00,683.96 L202.00,684.01 L203.00,684.05 L204.00,684.07 L205.00,684.06 L206.00,684.01 L207.00,683.93 L208.00,683.80 L209.00,683.63 L210.00,683.43 L211.00,683.21 L212.00,682.99 L213.00,682.77 L214.00,682.58 L215.00,682.42 L216.00,682.30 L217.00,682.24 L218.00,682.23 L219.00,682.27 L220.00,682.36 L221.00,682.48 L222.00,682.62 L223.00,682.79 L224.00,682.97 L225.00,683.16 L226.00,683.34 L227.00,683.51 L228.00,683.66 L229.00,683.79 L230.00,683.88 L231.00,683.92 L232.00,683.91 L233.00,683.84 L234.00,683.73 L235.00,683.57 L236.00,683.41 L237.00,683.25 L238.00,683.13 L239.00,683.07 L240.00,683.08 L241.00,683.15 L242.00,683.30 L243.00,683.50 L244.00,683.75 L245.00,684.03 L246.00,684.33 L247.00,684.64 L248.00,684.95 L249.00,685.25 L250.00,685.51 L251.00,685.74 L252.00,685.91 L253.00,686.03 L254.00,686.09 L255.00,686.08 L256.00,685.99 L257.00,685.85 L258.00,685.64 L259.00,685.38 L260.00,685.09 L261.00,684.77 L262.00,684.43 L263.00,684.10 L264.00,683.77 L265.00,683.47 L266.00,683.21 L267.00,683.00 L268.00,682.86 L269.00,682.79 L270.00,682.80 L271.00,682.90 L272.00,683.07 L273.00,683.32 L274.00,683.63 L275.00,683.98 L276.00,684.34 L277.00,684.70 L278.00,685.05 L279.00,685.35 L280.00,685.62 L281.00,685.84 L282.00,686.03 L283.00,686.18 L284.00,686.31 L285.00,686.42 L286.00,686.52 L287.00,686.62 L288.00,686.71 L289.00,686.79 L290.00,686.87 L291.00,686.95 L292.00,687.02 L293.00,687.08 L294.00,687.14 L295.00,687.20 L296.00,687.25 L297.00,687.30 L298.00,687.34 L299.00,687.37 L300.00,687.40 L301.00,687.42 L302.00,687.43 L303.00,687.41 L304.00,687.38 L305.00,687.31 L306.00,687.20 L307.00,687.06 L308.00,686.88 L309.00,686.68 L310.00,686.48 L311.00,686.29 L312.00,686.13 L313.00,686.01 L314.00,685.95 L315.00,685.93 L316.00,685.96 L317.00,686.03 L318.00,686.14 L319.00,686.28 L320.00,686.44 L321.00,686.62 L322.00,686.81 L323.00,687.01 L324.00,687.21 L325.00,687.41 L326.00,687.61 L327.00,687.79 L328.00,687.96 L329.00,688.10 L330.00,688.22 L331.00,688.31 L332.00,688.35 L333.00,688.34 L334.00,688.27 L335.00,688.14 L336.00,687.97 L337.00,687.75 L338.00,687.52 L339.00,687.29 L340.00,687.11 L341.00,687.00 L342.00,686.99 L343.00,687.07 L344.00,687.25 L345.00,687.50 L346.00,687.79 L347.00,688.06 L348.00,688.28 L349.00,688.41 L350.00,688.44 L351.00,688.38 L352.00,688.24 L353.00,688.04 L354.00,687.82 L355.00,687.59 L356.00,687.38 L357.00,687.14 L358.00,686.97 L359.00,686.84 L360.00,686.77 L361.00,686.72 L362.00,686.66 L363.00,686.58 L364.00,686.47 L365.00,686.23 L366.00,685.44 L367.00,684.20 L368.00,682.72 L369.00,681.22 L370.00,679.88 L371.00,678.52 L372.00,677.11 L373.00,675.93 L374.00,675.14 L375.00,674.46 L376.00,673.93 L377.00,673.70 L378.00,673.93 L379.00,674.60 L380.00,675.52 L381.00,676.50 L382.00,677.69 L383.00,679.15 L384.00,680.61 L385.00,681.92 L386.00,683.32 L387.00,684.76 L388.00,686.14 L389.00,687.36 L390.00,688.32 L391.00,688.74 L392.00,688.91 L393.00,689.11 L394.00,689.30 L395.00,689.50 L396.00,689.64 L397.00,689.72 L398.00,689.74 L399.00,689.77 L400.00,689.79 L401.00,689.82 L402.00,689.66 L403.00,689.09 L404.00,688.36 L404.50,687.97 L405.00,687.58 L405.50,687.20 L406.00,686.84 L406.50,686.52 L407.00,686.25 L407.50,686.03 L408.00,685.89 L408.50,685.79 L409.00,685.69 L409.50,685.54 L410.00,685.21 L410.50,684.54 L411.00,683.56 L411.50,682.30 L412.00,680.79 L412.50,679.08 L413.00,677.20 L413.50,674.89 L414.00,671.29 L414.50,666.89 L415.00,662.33 L415.50,658.06 L416.00,653.75 L416.50,649.32 L417.00,644.81 L417.50,640.22 L418.00,635.58 L418.50,630.89 L419.00,626.15 L419.50,621.33 L420.00,616.42 L420.50,611.46 L421.00,606.46 L421.50,601.43 L422.00,596.38 L422.50,591.12 L423.00,585.82 L423.50,580.90 L424.00,576.50 L424.50,572.64 L425.00,569.61 L425.50,567.17 L426.00,565.66 L426.50,564.45 L427.00,563.82 L427.50,564.10 L428.00,565.13 L428.50,566.50 L429.00,568.53 L429.50,571.38 L430.00,574.69 L430.50,578.98 L431.00,585.69 L431.50,594.39 L432.00,601.35 L432.50,607.53 L433.00,613.29 L433.50,618.72 L434.00,623.93 L434.50,629.00 L435.00,633.94 L435.50,638.69 L436.00,643.29 L436.50,647.76 L437.00,652.12 L437.50,656.39 L438.00,660.60 L438.50,665.09 L439.00,669.70 L439.50,673.71 L440.00,676.40 L440.50,677.94 L441.00,679.08 L441.50,680.00 L442.00,680.89 L442.50,681.76 L443.00,682.48 L443.50,682.92 L444.00,682.98 L444.50,682.81 L445.00,682.49 L445.50,682.05 L446.00,681.55 L447.00,680.50 L448.00,679.38 L449.00,678.04 L450.00,676.54 L451.00,674.93 L452.00,673.08 L453.00,670.86 L454.00,668.69 L455.00,667.00 L456.00,665.67 L457.00,664.42 L458.00,663.44 L459.00,662.93 L460.00,663.14 L461.00,664.08 L462.00,665.37 L463.00,666.65 L464.00,668.16 L465.00,669.89 L466.00,671.81 L467.00,674.20 L468.00,676.89 L469.00,679.57 L470.00,681.94 L471.00,683.70 L472.00,685.00 L473.00,686.21 L474.00,687.32 L475.00,688.33 L476.00,689.24 L477.00,690.04 L478.00,690.74 L479.00,691.23 L480.00,691.65 L481.00,692.01 L482.00,692.35 L483.00,692.70 L484.00,693.01 L485.00,693.29 L486.00,693.55 L487.00,693.80 L488.00,694.05 L489.00,694.30 L490.00,694.57 L491.00,694.84 L492.00,695.12 L493.00,695.40 L494.00,695.69 L495.00,695.98 L496.00,696.25 L497.00,696.50 L498.00,696.72 L499.00,696.90 L500.00,697.05 L501.00,697.14 L502.00,697.18 L503.00,697.17 L504.00,697.12 L505.00,697.03 L506.00,696.91 L507.00,696.76 L508.00,696.60 L509.00,696.43 L510.00,696.27 L511.00,696.12 L512.00,695.98 L513.00,695.87 L514.00,695.79 L515.00,695.75 L516.00,695.73 L517.00,695.75 L518.00,695.80 L519.00,695.86 L520.00,695.96 L521.00,696.06 L522.00,696.19 L523.00,696.33 L524.00,696.48 L525.00,696.64 L526.00,696.80 L527.00,696.97 L528.00,697.14 L529.00,697.31 L530.00,697.48 L531.00,697.64 L532.00,697.80 L533.00,697.95 L534.00,698.09 L535.00,698.22 L536.00,698.34 L537.00,698.45 L538.00,698.55 L539.00,698.64 L540.00,698.73 L541.00,698.82 L542.00,698.91 L543.00,698.99 L544.00,699.07 L545.00,699.14 L546.00,699.22 L547.00,699.28 L548.00,699.34 L549.00,699.40 L550.00,699.44 L551.00,699.46 L552.00,699.46 L553.00,699.42 L554.00,699.33 L555.00,699.17 L556.00,698.93 L557.00,698.62 L558.00,698.25 L559.00,697.84 L560.00,697.42 L561.00,697.04 L562.00,696.71 L563.00,696.47 L564.00,696.33 L565.00,696.27 L566.00,696.30 L567.00,696.39 L568.00,696.54 L569.00,696.72 L570.00,696.92 L571.00,697.13 L572.00,697.35 L573.00,697.57 L574.00,697.77 L575.00,697.95 L576.00,698.10 L577.00,698.21 L578.00,698.29 L579.00,698.34 L580.00,698.34 L581.00,698.31 L582.00,698.26 L583.00,698.18 L584.00,698.08 L585.00,697.96 L586.00,697.84 L587.00,697.71 L588.00,697.59 L589.00,697.47 L590.00,697.37 L591.00,697.28 L592.00,697.22 L593.00,697.20 L594.00,697.22 L595.00,697.29 L596.00,697.42 L597.00,697.59 L598.00,697.81 L599.00,698.06 L600.00,698.33 L601.00,698.59 L602.00,698.84 L603.00,699.05 L604.00,699.22 L605.00,699.34 L606.00,699.40 L607.00,699.43 L608.00,699.41 L609.00,699.36 L610.00,699.28 L611.00,699.19 L612.00,699.08 L613.00,698.95 L614.00,698.82 L615.00,698.68 L616.00,698.53 L617.00,698.38 L618.00,698.22 L619.00,698.07 L620.00,697.92 L621.00,697.78 L622.00,697.65 L623.00,697.52 L624.00,697.41 L625.00,697.31 L626.00,697.23 L627.00,697.16 L628.00,697.11 L629.00,697.08 L630.00,697.07 L631.00,697.07 L632.00,697.09 L633.00,697.12 L634.00,697.16 L635.00,697.20 L636.00,697.26 L637.00,697.32 L638.00,697.38 L639.00,697.44 L640.00,697.50 L641.00,697.55 L642.00,697.61 L643.00,697.65 L644.00,697.68 L645.00,697.70 L646.00,697.70 L647.00,697.70 L648.00,697.69 L649.00,697.65 L650.00,697.56 L651.00,697.37 L652.00,697.14 L653.00,696.87 L654.00,696.58 L655.00,696.26 L656.00,695.94 L657.00,695.60 L658.00,695.27 L659.00,694.89 L660.00,694.41 L661.00,693.86 L662.00,693.28 L663.00,692.72 L664.00,692.22 L665.00,691.83 L666.00,691.46 L667.00,691.09 L668.00,690.74 L669.00,690.44 L670.00,690.23 L671.00,690.11 L672.00,690.11 L673.00,690.18 L674.00,690.31 L675.00,690.48 L676.00,690.69 L677.00,690.93 L678.00,691.20 L679.00,691.69 L680.00,692.51 L681.00,693.50 L682.00,694.54 L683.00,695.45 L684.00,696.10 L685.00,696.37 L686.00,696.54 L687.00,696.67 L688.00,696.77 L689.00,696.86 L690.00,696.93 L691.00,696.98 L692.00,697.03 L693.00,697.10 L694.00,697.18 L695.00,697.26 L696.00,697.37 L697.00,697.52 L698.00,697.71 L699.00,697.95 L700.00,698.25 L701.00,698.59 L702.00,698.93 L703.00,699.24 L704.00,699.47 L705.00,699.60 L706.00,699.61 L707.00,699.51 L708.00,699.33 L709.00,699.10 L710.00,698.84 L711.00,698.60 L712.00,698.39 L713.00,698.23 L714.00,698.14 L715.00,698.11 L716.00,698.14 L717.00,698.23 L718.00,698.37 L719.00,698.54 L720.00,698.74 L721.00,698.94 L722.00,699.14 L723.00,699.34 L724.00,699.50 L725.00,699.65 L726.00,699.75 L727.00,699.82 L728.00,699.85 L729.00,699.85 L730.00,699.82 L731.00,699.77 L732.00,699.69 L733.00,699.60 L734.00,699.50 L735.00,699.39 L736.00,699.27 L737.00,699.16 L738.00,699.05 L739.00,698.94 L740.00,698.85 L741.00,698.76 L742.00,698.70 L743.00,698.66 L744.00,698.65 L745.00,698.67 L746.00,698.74 L747.00,698.83 L748.00,698.97 L749.00,699.13 L750.00,699.31 L751.00,699.49 L752.00,699.67 L753.00,699.83 L754.00,699.96 L755.00,700.05 L756.00,700.09 L757.00,700.10 L758.00,700.07 L759.00,700.00 L760.00,699.91 L761.00,699.80 L762.00,699.69 L763.00,699.58 L764.00,699.48 L765.00,699.40 L766.00,699.33 L767.00,699.28 L768.00,699.25 L769.00,699.23 L770.00,699.22 L771.00,699.21 L772.00,699.21 L773.00,699.21 L774.00,699.22 L775.00,699.22 L776.00,699.22 L777.00,699.23 L778.00,699.23 L779.00,699.24 L780.00,699.25 L781.00,699.25 L782.00,699.26 L783.00,699.27 L784.00,699.28 L785.00,699.28 L786.00,699.29 L787.00,699.30 L788.00,699.31 L789.00,699.32 L790.00,699.33 L791.00,699.35 L792.00,699.36 L793.00,699.37 L794.00,699.38 L795.00,699.39 L796.00,699.41 L797.00,699.42 L798.00,699.43 L799.00,699.45 L800.00,699.46 L801.00,699.48 L802.00,699.49 L803.00,699.51 L804.00,699.52 L805.00,699.54 L806.00,699.56 L807.00,699.58 L808.00,699.60 L809.00,699.62 L810.00,699.65 L811.00,699.69 L812.00,699.72 L813.00,699.76 L814.00,699.80 L815.00,699.84 L816.00,699.87 L817.00,699.89 L818.00,699.88 L819.00,699.88 L820.00,699.89 L821.00,699.86 L822.00,699.75 L823.00,699.49 L824.00,699.17 L825.00,698.79 L826.00,698.38 L827.00,697.94 L828.00,697.49 L829.00,697.04 L830.00,696.62 L831.00,696.22 L832.00,695.78 L833.00,695.27 L834.00,694.71 L835.00,694.13 L836.00,693.55 L837.00,693.00 L838.00,692.50 L839.00,692.07 L840.00,691.75 L841.00,691.55 L842.00,691.50 L843.00,691.60 L844.00,691.83 L845.00,692.16 L846.00,692.57 L847.00,693.06 L848.00,693.59 L849.00,694.15 L850.00,694.71 L851.00,695.27 L852.00,695.80 L853.00,696.27 L854.00,696.68 L855.00,697.00 L856.00,697.27 L857.00,697.54 L858.00,697.82 L859.00,698.09 L860.00,698.35 L861.00,698.61 L862.00,698.85 L863.00,699.06 L864.00,699.25 L865.00,699.41 L866.00,699.53 L867.00,699.65 L868.00,699.74 L869.00,699.79 L870.00,699.79 L871.00,699.74 L872.00,699.64 L873.00,699.50 L874.00,699.31 L875.00,699.10 L876.00,698.88 L877.00,698.65 L878.00,698.44 L879.00,698.26 L880.00,698.12 L881.00,698.02 L882.00,697.96 L883.00,697.95 L884.00,697.97 L885.00,698.02 L886.00,698.10 L887.00,698.21 L888.00,698.33 L889.00,698.47 L890.00,698.62 L891.00,698.75 L892.00,698.88 L892.25,698.90" stroke="#0f0"/>
<line x1="76" y1="47" x2="153" y2="47" stroke="#000" stroke-width="6"/>
<line x1="76" y1="84" x2="153" y2="84" stroke="#f00" stroke-width="6"/>
<line x1="76" y1="121" x2="153" y2="121" stroke="#0f0" stroke-width="6"/>
</g>
<g font-family="'Liberation Sans', Arial, sans-serif" font-weight="bold" fill="#000">
<text x="160" y="56.6" font-size="29" letter-spacing="-0.35">ZnO</text>
<text x="160" y="92.5" font-size="29" letter-spacing="-0.35">ZnO - 1 % Fe</text>
<text x="160" y="129.5" font-size="29" letter-spacing="-0.35">ZnO - 2 % Fe</text>
<text transform="translate(148.0,832) scale(0.94,1)" font-size="40" text-anchor="middle">20</text>
<text transform="translate(336.4,832) scale(0.94,1)" font-size="40" text-anchor="middle">30</text>
<text transform="translate(524.7,832) scale(0.94,1)" font-size="40" text-anchor="middle">40</text>
<text transform="translate(713.1,832) scale(0.94,1)" font-size="40" text-anchor="middle">50</text>
<text transform="translate(901.4,832) scale(0.94,1)" font-size="40" text-anchor="middle">60</text>
<text x="534.5" y="876" font-size="35" text-anchor="middle">2Theta (Degree)</text>
<text transform="translate(30.4,386) rotate(-90)" font-size="37" letter-spacing="-0.47" text-anchor="middle">Intensity (arb.u.)</text>
</g>
<g font-family="'Liberation Sans', Arial, sans-serif" fill="#000" stroke="#000" stroke-width="0.7" font-size="29.5" text-anchor="middle">
<text transform="translate(360.0,257.2) rotate(-44)" y="9.5">(100)</text>
<text transform="translate(412.4,40.7) rotate(-44)" y="9.5">(002)</text>
<text transform="translate(472.3,216.1) rotate(-44)" y="9.5">(101)</text>
<text transform="translate(667.8,257.0) rotate(-44)" y="9.5">(102)</text>
<text transform="translate(836.3,273.3) rotate(-44)" y="9.5">(110)</text>
</g>
</svg></body></html>
